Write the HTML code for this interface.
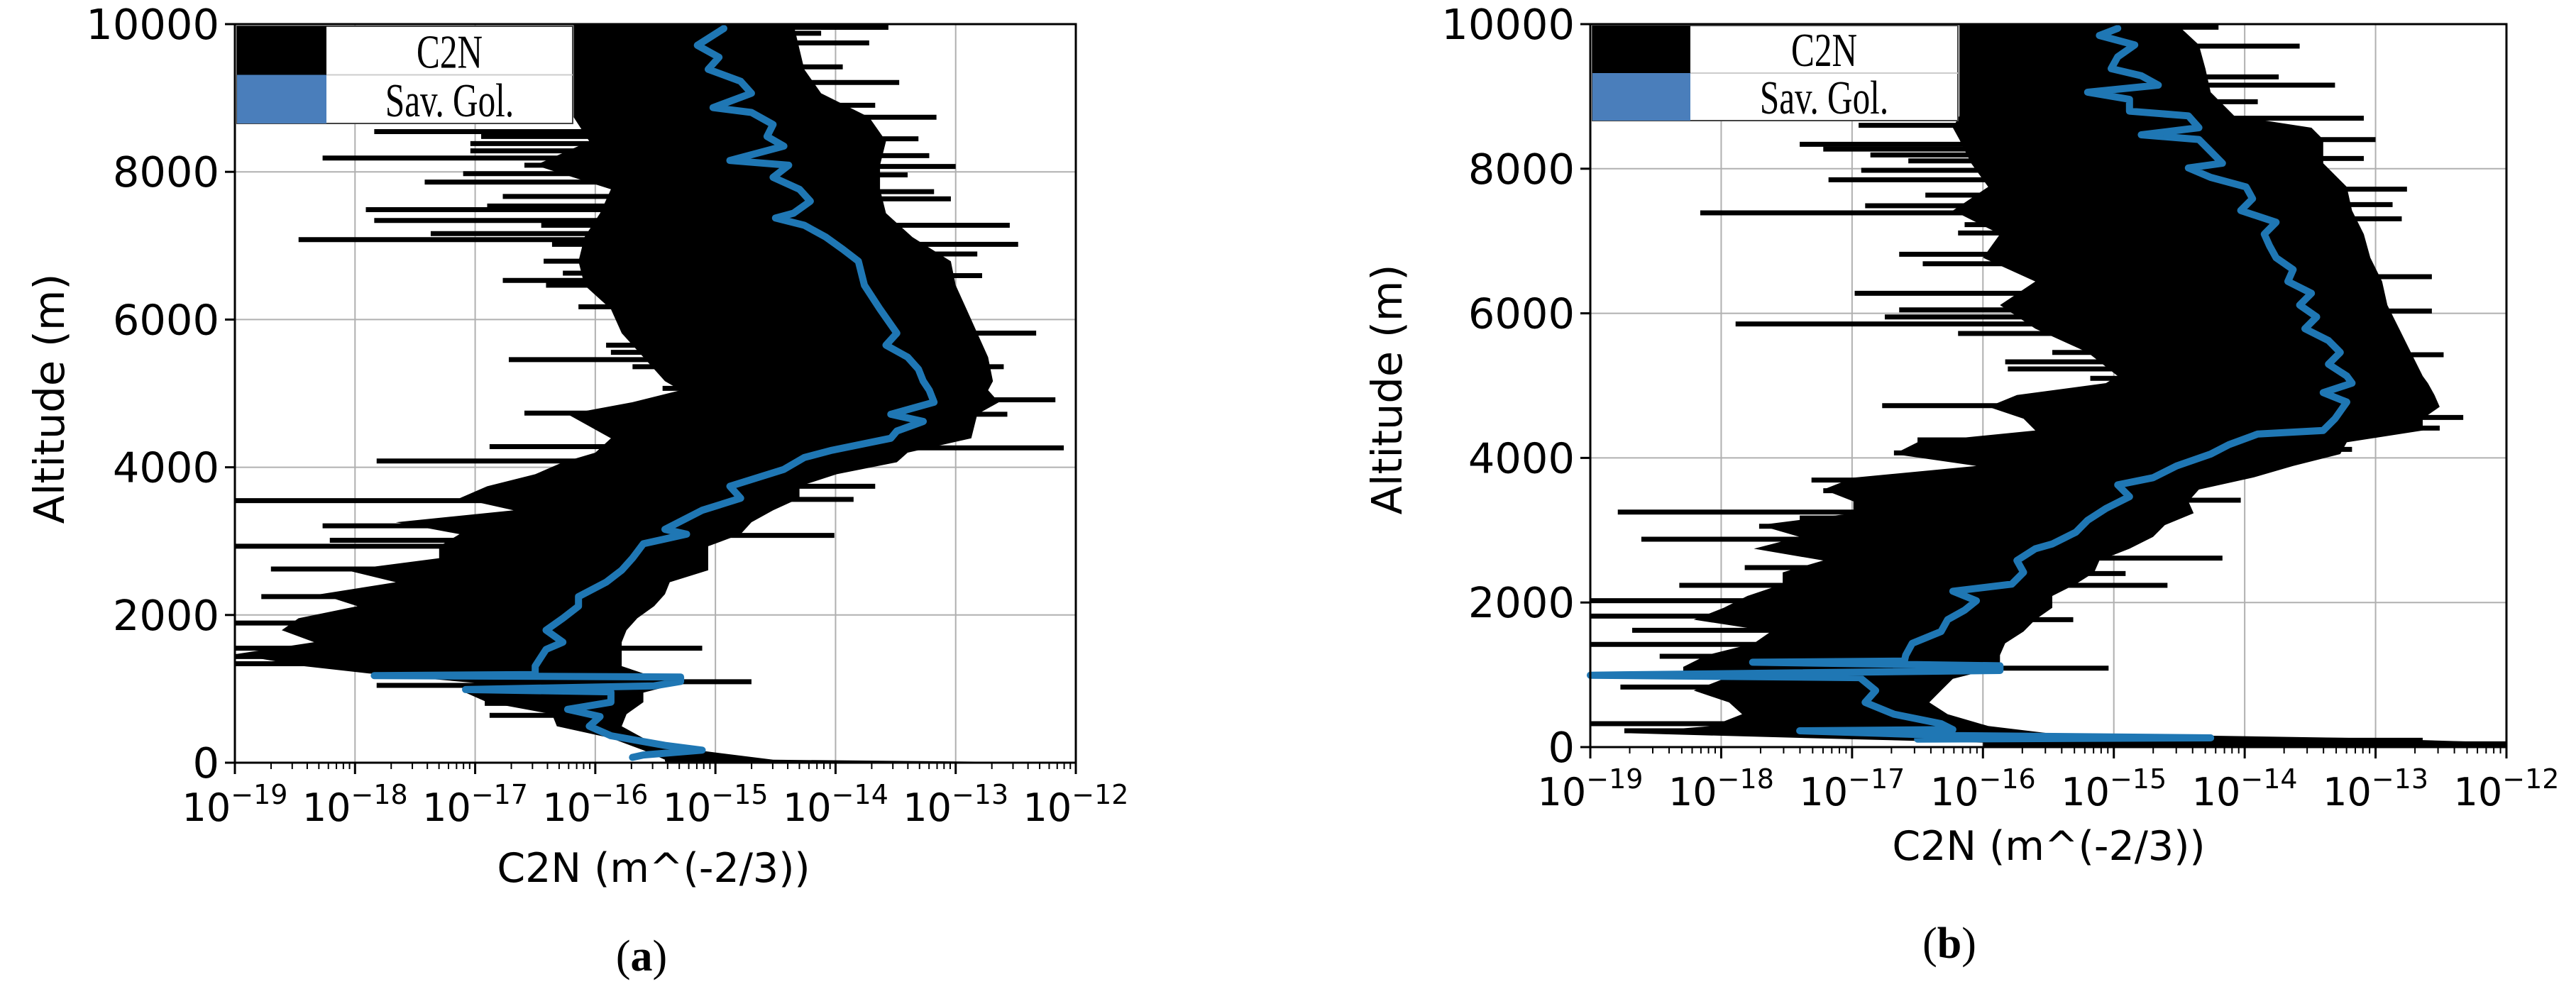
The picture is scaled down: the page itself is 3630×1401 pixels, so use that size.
<!DOCTYPE html>
<html><head><meta charset="utf-8">
<style>
html,body{margin:0;padding:0;background:#fff;}
svg{display:block;}
</style></head>
<body>
<svg id="fig" width="3630" height="1401" viewBox="0 0 3630 1401" xmlns="http://www.w3.org/2000/svg"></svg>
<script>
// ---------- Data (log10 of C2N vs altitude in m) ----------
const xTickExps = [-19,-18,-17,-16,-15,-14,-13,-12];
const yTicks = [0,2000,4000,6000,8000,10000];

// Panel (a)
const aEnvAlt  = [0,20,40,169,332,494,657,819,949,1079,1209,1307,1469,1632,1794,1956,2119,2281,2444,2606,2769,2931,3094,3256,3418,3581,3743,3906,4068,4198,4393,4718,4881,5043,5166,5491,5816,6140,6465,6790,7115,7440,7764,8089,8414,8739,9063,9388,10000];
const aEnvLow  = [-15.4,-15.42,-15.42,-15.60,-15.87,-16.32,-16.36,-16.90,-17.08,-16.99,-17.89,-18.43,-19.0,-18.34,-18.61,-18.47,-17.98,-18.29,-17.66,-18.07,-17.30,-17.30,-17.13,-17.66,-16.68,-17.13,-16.90,-16.50,-16.27,-16.0,-15.87,-16.23,-15.69,-15.29,-15.42,-15.60,-15.78,-15.87,-16.09,-16.14,-16.09,-15.96,-15.87,-16.50,-16.05,-16.18,-16.18,-16.18,-16.18];
const aEnvHigh = [-12.0,-13.2,-14.52,-15.15,-15.60,-15.78,-15.74,-15.60,-15.60,-15.29,-15.60,-15.78,-15.78,-15.78,-15.74,-15.65,-15.51,-15.42,-15.38,-15.06,-15.06,-15.06,-14.79,-14.70,-14.52,-14.30,-14.30,-13.99,-13.49,-13.40,-12.87,-12.82,-12.64,-12.73,-12.69,-12.73,-12.82,-12.91,-13.0,-13.04,-13.36,-13.58,-13.63,-13.63,-13.58,-13.72,-14.12,-14.26,-14.35];
const aSpikeAlt = [8545,8479,8382,8284,8187,8089,7976,7862,7667,7537,7488,7342,7277,7164,7082,7018,6790,6628,6530,6465,6173,5653,5556,5458,5361,5068,
  9957,9876,9746,9421,9210,8901,8739,8447,8219,8073,7959,7732,7635,7277,7018,6888,6595,5816,5361,
  4734,4280,4085,3548,3207,3012,2931,2622,2249,1891,1550,1437,1340,1047,803,641,
  4913,4718,4263,3743,3565,3077,1550,1096];
const aSpikeVal = [-17.84,-16.95,-17.04,-17.04,-18.27,-16.59,-17.10,-17.42,-16.77,-16.90,-17.91,-17.84,-16.45,-17.37,-18.47,-16.36,-16.43,-16.27,-16.77,-16.41,-16.14,-15.91,-15.87,-16.72,-15.69,-15.44,
  -13.56,-14.12,-13.72,-13.94,-13.47,-13.67,-13.16,-13.31,-13.22,-13.0,-13.40,-13.18,-13.04,-12.55,-12.48,-12.82,-12.78,-12.33,-12.60,
  -16.59,-16.88,-17.82,-19.0,-18.27,-18.21,-19.0,-18.70,-18.78,-19.0,-19.0,-19.0,-19.0,-17.82,-16.92,-16.88,
  -12.17,-12.57,-12.10,-13.67,-13.85,-14.01,-15.11,-14.70];
const aSavAlt = [72,105,170,234,365,494,624,722,819,960,990,1040,1100,1160,1180,1193,1307,1534,1632,1794,1956,2119,2249,2444,2606,2769,2964,3094,3159,3418,3581,3743,3971,4133,4231,4393,4491,4621,4718,4881,5043,5166,5329,5491,5653,5816,6140,6465,6790,6952,7115,7277,7375,7440,7602,7764,7926,8089,8154,8349,8479,8641,8804,8869,9063,9226,9388,9551,9713,9941];
const aSavVal = [-15.69,-15.60,-15.11,-15.42,-15.87,-16.05,-15.96,-16.23,-15.87,-15.87,-17.08,-15.51,-15.29,-15.29,-17.84,-16.50,-16.50,-16.41,-16.27,-16.41,-16.27,-16.14,-16.14,-15.91,-15.78,-15.69,-15.60,-15.24,-15.42,-15.11,-14.79,-14.88,-14.43,-14.26,-14.03,-13.54,-13.49,-13.27,-13.54,-13.18,-13.22,-13.27,-13.31,-13.40,-13.58,-13.49,-13.63,-13.76,-13.81,-13.94,-14.08,-14.26,-14.50,-14.35,-14.21,-14.30,-14.52,-14.39,-14.88,-14.43,-14.57,-14.52,-14.70,-15.02,-14.70,-14.79,-15.06,-14.97,-15.15,-14.93];

// Panel (b)
const bEnvAlt  = [0,62,128,193,291,455,618,782,945,1109,1272,1436,1599,1763,1927,2090,2254,2417,2581,2744,2908,3071,3235,3399,3562,3726,3889,4053,4216,4380,4543,4707,4870,5034,5132,5459,5787,6114,6441,6768,7095,7422,7749,8076,8404,8567,8731,9058,9385,9712,10000];
const bEnvLow  = [-16.0,-16.0,-17.40,-18.74,-18.07,-17.84,-17.94,-18.21,-17.98,-18.29,-18.11,-17.75,-17.62,-18.21,-17.98,-17.80,-17.53,-17.53,-17.22,-17.75,-17.40,-17.71,-16.99,-16.99,-17.22,-16.99,-16.05,-16.68,-16.50,-15.60,-15.69,-15.96,-15.74,-15.06,-14.97,-15.20,-15.60,-15.87,-15.60,-16.0,-15.87,-16.23,-15.96,-16.09,-16.18,-16.23,-16.18,-16.18,-16.18,-16.18,-16.18];
const bEnvHigh = [-12.0,-12.0,-13.2,-15.51,-15.96,-16.27,-16.41,-16.32,-16.23,-15.87,-15.87,-15.83,-15.69,-15.60,-15.47,-15.47,-15.29,-15.15,-15.11,-14.88,-14.70,-14.61,-14.39,-14.43,-14.35,-13.94,-13.63,-13.27,-13.22,-12.64,-12.64,-12.51,-12.55,-12.60,-12.64,-12.73,-12.82,-12.91,-12.95,-13.04,-13.09,-13.18,-13.22,-13.40,-13.40,-13.49,-14.08,-14.26,-14.30,-14.35,-14.52];
const bSpikeAlt = [8600,8338,8272,8191,8109,7978,7847,7635,7488,7390,7226,7111,6817,6686,6277,6048,5950,5852,5721,5459,5329,5231,5100,
  9957,9696,9270,9156,8927,8698,8403,8142,7717,7504,7308,6506,6032,5427,
  4723,4249,4069,3693,3546,3251,3169,3055,2875,2483,2237,2025,1812,1616,1420,1256,1076,831,324,226,
  4985,4560,4413,4118,3415,2614,2401,2237,1763,1092,95,46];
const bSpikeVal = [-16.95,-17.40,-17.22,-16.86,-16.57,-16.93,-17.18,-16.44,-16.90,-18.16,-16.14,-16.19,-16.64,-16.46,-16.98,-16.64,-16.75,-17.89,-16.19,-15.47,-15.83,-15.81,-15.18,
  -14.20,-13.58,-13.74,-13.31,-13.90,-13.09,-13.0,-13.09,-12.76,-12.87,-12.80,-12.57,-12.57,-12.48,
  -16.77,-16.50,-16.68,-17.31,-17.22,-18.79,-17.40,-17.71,-18.61,-17.82,-18.32,-19.0,-19.0,-18.68,-19.0,-18.47,-18.29,-18.77,-19.0,-18.74,
  -12.60,-12.33,-12.51,-13.18,-14.03,-14.17,-14.91,-14.59,-15.31,-15.04,-12.64,-12.0];
const bSavAlt = [111,128,160,226,242,324,455,618,782,961,994,1060,1125,1174,1190,1272,1436,1599,1763,1894,2025,2156,2254,2417,2581,2744,2810,2973,3137,3300,3464,3627,3726,3889,4053,4184,4331,4380,4543,4772,4903,5034,5132,5296,5459,5623,5787,5950,6114,6277,6441,6605,6768,6932,7095,7259,7422,7586,7749,7880,8011,8076,8240,8404,8469,8567,8731,8796,8960,9058,9156,9287,9385,9548,9712,9843,9941];
const bSavVal = [-16.5,-14.26,-16.23,-17.40,-16.23,-16.32,-16.68,-16.90,-16.82,-16.94,-19.0,-15.87,-15.87,-17.76,-16.60,-16.59,-16.54,-16.32,-16.27,-16.14,-16.05,-16.23,-15.78,-15.69,-15.74,-15.60,-15.47,-15.29,-15.20,-15.06,-14.88,-14.97,-14.70,-14.52,-14.26,-14.12,-13.90,-13.40,-13.31,-13.22,-13.40,-13.18,-13.22,-13.36,-13.27,-13.36,-13.54,-13.45,-13.58,-13.49,-13.67,-13.63,-13.76,-13.81,-13.85,-13.76,-14.03,-13.94,-13.99,-14.26,-14.43,-14.17,-14.26,-14.35,-14.79,-14.35,-14.43,-14.88,-14.88,-15.20,-14.66,-14.79,-15.02,-14.97,-14.84,-15.11,-14.97];

// ---------- Rendering ----------
const NS = 'http://www.w3.org/2000/svg';
const svg = document.getElementById('fig');
function mk(tag, attrs, parent){
  const e = document.createElementNS(NS, tag);
  for (const k in attrs) e.setAttribute(k, attrs[k]);
  (parent||svg).appendChild(e);
  return e;
}
function interp(arrA, arrV, a){
  for (let i=0;i<arrA.length-1;i++){
    if (a>=arrA[i] && a<=arrA[i+1]){ const t=(a-arrA[i])/(arrA[i+1]-arrA[i]); return arrV[i]+t*(arrV[i+1]-arrV[i]); }
  }
  return arrV[arrV.length-1];
}

function drawPanel(P, envAlt, envLow, envHigh, spAlt, spVal, savAlt, savVal){
  const g = mk('g', {});
  
  
  const xS = v => P.left + (v + 19) / 7 * (P.right - P.left);
  const yS = a => P.bottom - a / 10000 * (P.bottom - P.top);

  // grid
  xTickExps.forEach(e => {
    const l = mk('line', {x1:xS(e), x2:xS(e), y1:P.top, y2:P.bottom, stroke:'#b0b0b0', 'stroke-width':2}, g);
    
    
  });
  yTicks.forEach(t => {
    const l = mk('line', {x1:P.left, x2:P.right, y1:yS(t), y2:yS(t), stroke:'#b0b0b0', 'stroke-width':2}, g);
    
    
  });

  // envelope (C2N raw)
  let pts = [];
  for (let i=0;i<envAlt.length;i++) pts.push(xS(envHigh[i]).toFixed(1)+','+yS(envAlt[i]).toFixed(1));
  for (let i=envAlt.length-1;i>=0;i--) pts.push(xS(envLow[i]).toFixed(1)+','+yS(envAlt[i]).toFixed(1));
  const env = mk('polygon', {points:pts.join(' '), fill:'#000'}, g);
  
  

  // spikes
  for (let i=0;i<spAlt.length;i++){
    const mid = (interp(envAlt, envLow, spAlt[i]) + interp(envAlt, envHigh, spAlt[i]))/2;
    const s = mk('line', {x1:xS(mid), x2:xS(spVal[i]), y1:yS(spAlt[i]), y2:yS(spAlt[i]), stroke:'#000', 'stroke-width':7}, g);
    
    
  }

  // Sav Gol line
  const sp = savAlt.map((a,i)=> xS(savVal[i]).toFixed(1)+','+yS(a).toFixed(1)).join(' ');
  const sl = mk('polyline', {points:sp, fill:'none', stroke:'#1f77b4', 'stroke-width':10, 'stroke-linejoin':'round', 'stroke-linecap':'round'}, g);
  
  

  // axes frame
  const fr = mk('rect', {x:P.left, y:P.top, width:P.right-P.left, height:P.bottom-P.top, fill:'none', stroke:'#000', 'stroke-width':3}, g);
  
  

  // x ticks
  xTickExps.forEach((e, idx) => {
    const x = xS(e);
    mk('line', {x1:x, x2:x, y1:P.bottom, y2:P.bottom+16, stroke:'#000', 'stroke-width':3}, g);
    const t = mk('text', {x:x, y:P.bottom+82, 'text-anchor':'middle', 'font-family':'DejaVu Sans, sans-serif', 'font-size':54, fill:'#000'}, g);
    
    
    const b = document.createElementNS(NS,'tspan'); b.textContent='10'; t.appendChild(b);
    const s = document.createElementNS(NS,'tspan'); s.setAttribute('dy','-24'); s.setAttribute('font-size','38'); s.textContent='\u2212'+Math.abs(e); t.appendChild(s);
    if (idx < xTickExps.length-1){
      for (let k=2;k<=9;k++){
        const xm = xS(e + Math.log10(k));
        mk('line', {x1:xm, x2:xm, y1:P.bottom, y2:P.bottom+9, stroke:'#000', 'stroke-width':2}, g);
      }
    }
  });
  // y ticks
  yTicks.forEach(v => {
    const y = yS(v);
    mk('line', {x1:P.left-14, x2:P.left, y1:y, y2:y, stroke:'#000', 'stroke-width':3}, g);
    const t = mk('text', {x:P.left-22, y:y+21, 'text-anchor':'end', 'font-family':'DejaVu Sans, sans-serif', 'font-size':59, fill:'#000'}, g);
    t.textContent = String(v);
    
    
  });

  // axis titles
  const xt = mk('text', {x:P.xlabX, y:P.xlabY, 'text-anchor':'middle', 'font-family':'DejaVu Sans, sans-serif', 'font-size':57, fill:'#000'}, g);
  xt.textContent = 'C2N (m^(-2/3))';
  
  
  const yt = mk('text', {x:0, y:0, transform:'translate('+P.ylabX+','+P.ylabY+') rotate(-90)', 'text-anchor':'middle', 'font-family':'DejaVu Sans, sans-serif', 'font-size':59, fill:'#000'}, g);
  yt.textContent = 'Altitude (m)';
  
  

  // legend
  const lg = mk('g', {}, g);
  
  
  mk('rect', {x:P.left+3, y:P.legT, width:P.legR-P.left-3, height:P.legB-P.legT, fill:'#fff', stroke:'#444', 'stroke-width':2}, lg);
  const mid = (P.legT+P.legB)/2;
  mk('rect', {x:P.left+3, y:P.legT, width:P.swR-P.left-3, height:mid-P.legT, fill:'#000'}, lg);
  mk('rect', {x:P.left+3, y:mid, width:P.swR-P.left-3, height:P.legB-mid, fill:'#4a7ebb'}, lg);
  mk('line', {x1:P.swR, x2:P.legR, y1:mid, y2:mid, stroke:'#ccc', 'stroke-width':2}, lg);
  const cx = (P.swR+P.legR)/2;
  const y1 = mid-10, y2 = P.legB-10;
  const t1 = mk('text', {x:0, y:0, 'text-anchor':'middle', 'font-family':'Liberation Serif, serif', 'font-size':60, fill:'#000', transform:'translate('+cx+','+y1+') scale(0.82,1.12)'}, lg);
  t1.textContent='C2N';
  
  
  const t2 = mk('text', {x:0, y:0, 'text-anchor':'middle', 'font-family':'Liberation Serif, serif', 'font-size':60, fill:'#000', transform:'translate('+cx+','+y2+') scale(0.82,1.12)'}, lg);
  t2.textContent='Sav. Gol.';
  
  

  // panel caption
  const cap = mk('text', {x:P.capX, y:P.capY, 'text-anchor':'middle', 'font-family':'Liberation Serif, serif', 'font-size':62, fill:'#000'}, g);
  
  
  const c1=document.createElementNS(NS,'tspan'); c1.textContent='('; cap.appendChild(c1);
  const c2=document.createElementNS(NS,'tspan'); c2.setAttribute('font-weight','bold'); c2.textContent=P.id; cap.appendChild(c2);
  const c3=document.createElementNS(NS,'tspan'); c3.textContent=')'; cap.appendChild(c3);
}

drawPanel({id:'a', left:331, right:1516, top:34, bottom:1075, xlabX:921, xlabY:1243, ylabX:90, ylabY:562,
  legT:37, legB:174, legR:807, swR:460, capX:904, capY:1368},
  aEnvAlt, aEnvLow, aEnvHigh, aSpikeAlt, aSpikeVal, aSavAlt, aSavVal);
drawPanel({id:'b', left:2241, right:3532, top:34, bottom:1053, xlabX:2887, xlabY:1212, ylabX:1975, ylabY:549,
  legT:36, legB:170, legR:2759, swR:2382, capX:2747, capY:1350},
  bEnvAlt, bEnvLow, bEnvHigh, bSpikeAlt, bSpikeVal, bSavAlt, bSavVal);
</script>
</body></html>
